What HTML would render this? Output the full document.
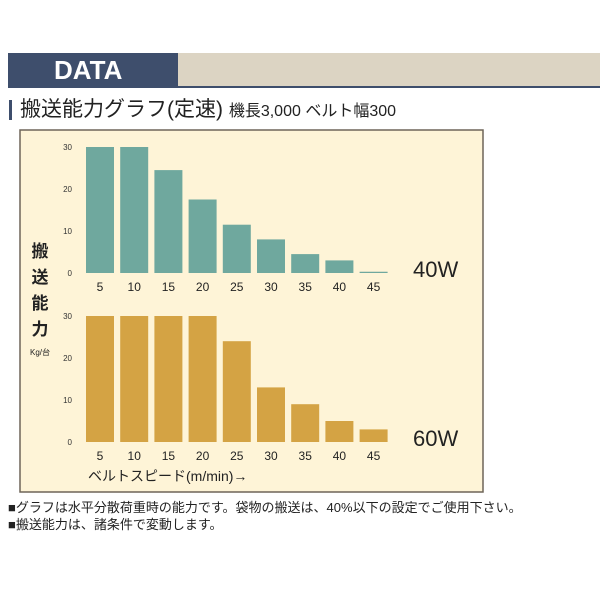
<!DOCTYPE html>
<html><head><meta charset="utf-8">
<style>
body{margin:0;width:600px;height:600px;background:#fff;font-family:"Liberation Sans","Noto Sans CJK JP",sans-serif;position:relative;overflow:hidden}
.abs{position:absolute}
</style></head><body>
<div class="abs" style="left:8px;top:53px;width:592px;height:33px;background:#dcd4c3"></div>
<div class="abs" style="left:8px;top:53px;width:170px;height:33px;background:#3e4e6c"></div>
<div class="abs" style="left:8px;top:86px;width:592px;height:2px;background:#3e4e6c"></div>
<div class="abs" style="left:54px;top:55px;color:#fff;font-weight:bold;font-size:26px;line-height:30px">DATA</div>
<div class="abs" style="left:9px;top:100px;width:3px;height:20px;background:#3e4e6c"></div>
<div class="abs" style="left:20px;top:96px;font-size:21px;color:#222;line-height:28px">搬送能力グラフ(定速) <span style="font-size:16px">機長3,000 ベルト幅300</span></div>
<svg class="abs" style="left:0;top:0" width="600" height="600" id="svg"></svg>
<div class="abs" style="left:8px;top:497px;font-size:13px;color:#222">■グラフは水平分散荷重時の能力です。袋物の搬送は、40%以下の設定でご使用下さい。</div>
<div class="abs" style="left:8px;top:514px;font-size:13px;color:#222">■搬送能力は、諸条件で変動します。</div>
<script>
const categories=[5,10,15,20,25,30,35,40,45];
const values40W=[30,30,24.5,17.5,11.5,8,4.5,3,0.3];
const values60W=[30,30,30,30,24,13,9,5,3];
const yTicks=[0,10,20,30];
const NS='http://www.w3.org/2000/svg';
const svg=document.getElementById('svg');
function mk(t,a,p){const e=document.createElementNS(NS,t);for(const k in a)e.setAttribute(k,a[k]);(p||svg).appendChild(e);return e;}
const box=mk('rect',{x:20,y:130,width:463,height:362,fill:'#fef4d7',stroke:'#6e6558','stroke-width':1.5});


const xs=i=>100+i*34.2;
function panel(vals,zeroY,color,name,label){
  const ys=v=>zeroY-v*4.2;
  yTicks.forEach(t=>{const e=mk('text',{x:72,y:ys(t)+3,'font-size':8,fill:'#333','text-anchor':'end'});e.textContent=t;
    
    });
  vals.forEach((v,i)=>{
    const h=Math.max(v*4.2,1);
    const r=mk('rect',{x:xs(i)-14,y:zeroY-h,width:28,height:h,fill:color});
    
    
    const t=mk('text',{x:xs(i),y:zeroY+18,'font-size':12,fill:'#222','text-anchor':'middle'});t.textContent=categories[i];
    
    
  });
  const l=mk('text',{x:413,y:zeroY+4,'font-size':22,fill:'#222'});l.textContent=label;
  
  
}
panel(values40W,273,'#6fa89e','top-40w','40W');
panel(values60W,442,'#d4a344','bottom-60w','60W');
['搬','送','能','力'].forEach((c,i)=>{const t=mk('text',{x:40,y:257+i*26,'font-size':17,'font-weight':'bold',fill:'#222','text-anchor':'middle'});t.textContent=c;
  
  });
const u=mk('text',{x:40,y:355,'font-size':8,fill:'#222','text-anchor':'middle'});u.textContent='Kg/台';


const xt=mk('text',{x:88,y:481,'font-size':14,fill:'#222'});xt.textContent='ベルトスピード(m/min)→';


</script>
</body></html>
